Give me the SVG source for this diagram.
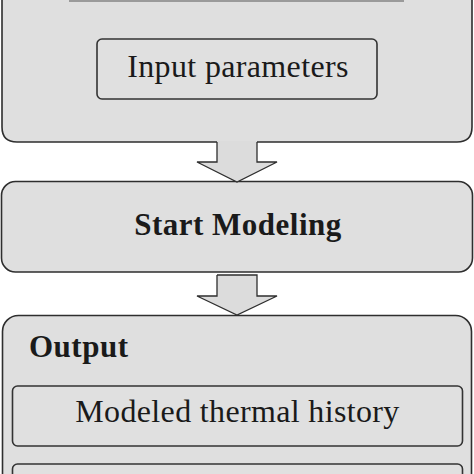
<svg xmlns="http://www.w3.org/2000/svg" width="474" height="474" viewBox="0 0 474 474">
<style>
.box{fill:#dfdfdf;stroke:#2e2e2e;stroke-width:1.6}
.inner{fill:#e0e0e0;stroke:#333;stroke-width:1.6}
.arrowfill{fill:#dcdcdc;stroke:none}
.arrowline{fill:none;stroke:#2e2e2e;stroke-width:1.3}
.reg{font-family:"Liberation Serif","Times New Roman",serif;font-size:32px;letter-spacing:0.35px;fill:#1a1a1a;text-anchor:middle}
.bold{font-family:"Liberation Serif","Times New Roman",serif;font-size:31px;letter-spacing:0.5px;font-weight:bold;fill:#1a1a1a}
</style>
<rect width="474" height="474" fill="#fff"/>
<g id="input-group">
<path class="box" d="M2,-5 L2,127 Q2,142 17,142 L457,142 Q472,142 472,127 L472,-5"/>
<rect x="69" y="-1" width="335" height="3" fill="#9a9a9a"/>
</g>
<g id="input-parameters">
<rect class="inner" x="97" y="39" width="280" height="60" rx="5"/>
<text class="reg" x="238" y="77">Input parameters</text>
</g>
<g id="start-modeling">
<rect class="box" x="1.5" y="181.5" width="471" height="90.5" rx="14"/>
<text class="bold" x="238" y="235" text-anchor="middle">Start Modeling</text>
</g>
<g id="output">
<rect class="box" x="2.5" y="315.5" width="469" height="200" rx="16"/>
<text class="bold" x="29" y="357">Output</text>
</g>
<g id="modeled-thermal-history">
<rect class="inner" x="12.5" y="386" width="450" height="60" rx="5"/>
<text class="reg" x="237.5" y="422">Modeled thermal history</text>
</g>
<g id="next-output">
<rect class="inner" x="12.5" y="464" width="450" height="60" rx="5"/>
</g>
<g id="connectors">
<polygon class="arrowfill" points="217,141 257,141 257,162 277,162 237,182 197,162 217,162"/>
<polyline class="arrowline" points="217,142 217,162 197,162 237,182 277,162 257,162 257,142"/>
<polygon class="arrowfill" points="217,275 257,275 257,296 277,296 237,315 197,296 217,296"/>
<polyline class="arrowline" points="217,275 217,296 197,296 237,315 277,296 257,296 257,275 217,275"/>
</g>
</svg>
